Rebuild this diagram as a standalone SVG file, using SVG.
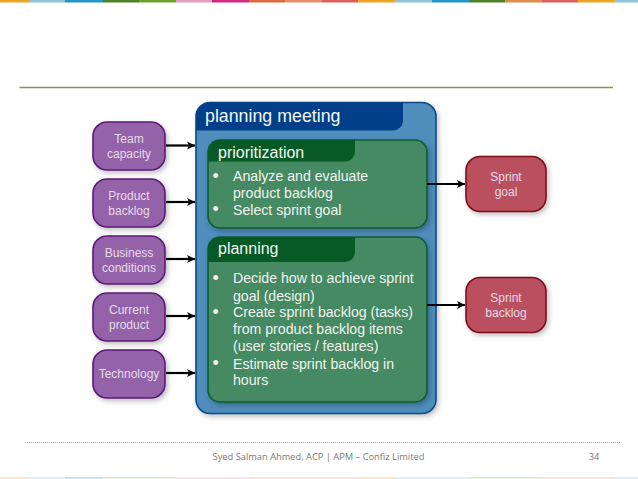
<svg xmlns="http://www.w3.org/2000/svg" width="638" height="479" viewBox="0 0 638 479">
<defs>
<filter id="sh" x="-20%" y="-20%" width="140%" height="140%"><feDropShadow dx="2" dy="2.5" stdDeviation="2.5" flood-color="#000" flood-opacity="0.25"/></filter>
<marker id="ah" markerUnits="userSpaceOnUse" markerWidth="9" markerHeight="10" refX="8" refY="5" orient="auto"><path d="M0 1L8 5L0 9L2 5Z" fill="#000"/></marker>
</defs>
<style>
text{font-family:"Liberation Sans",Arial,sans-serif;fill:#f2f2f2}
.in{fill:#9462a8;stroke:#5d1a78;stroke-width:1.6;filter:url(#sh)}
.out{fill:#b9505f;stroke:#7f1019;stroke-width:1.6;filter:url(#sh)}
.n{font-size:12px;text-anchor:middle;fill:#e6dcea}
.h{font-size:16px;fill:#f4f8f4}
.b{font-size:14.150px;fill:#f0f3f0}
.d{font-size:18px;fill:#f4f4f4}
.c{fill:none;stroke:#000;stroke-width:2.200;marker-end:url(#ah)}
.grn{fill:#458a62;stroke:#0b5c30;stroke-width:1.600}
.tab{fill:#075a25}
.f{font-size:9.300px;text-anchor:middle;fill:#7a7a7a;font-family:"Open Sans","Liberation Sans",sans-serif}
</style>
<rect width="638" height="479" fill="#fff"/>
<g id="top-stripe">
<rect x="0" width="29" height="2.500" fill="#eca424"/><rect x="29" width="36" height="2.500" fill="#8fc5dc"/><rect x="65" width="38" height="2.500" fill="#2295cb"/><rect x="103" width="36" height="2.500" fill="#4f8128"/><rect x="139" width="37" height="2.500" fill="#6ea22d"/><rect x="176" width="36" height="2.500" fill="#e59fc0"/><rect x="212" width="37" height="2.500" fill="#d02a80"/><rect x="249" width="36" height="2.500" fill="#dc6a3c"/><rect x="285" width="36.500" height="2.500" fill="#e5906a"/><rect x="321.500" width="37" height="2.500" fill="#d9605c"/><rect x="358.500" width="36.500" height="2.500" fill="#eca424"/><rect x="395" width="37" height="2.500" fill="#8fc5dc"/><rect x="432" width="37" height="2.500" fill="#2295cb"/><rect x="469" width="36.500" height="2.500" fill="#4f8128"/><rect x="505.500" width="36.500" height="2.500" fill="#e08a4c"/><rect x="542" width="36" height="2.500" fill="#d9605c"/><rect x="578" width="37" height="2.500" fill="#eca424"/><rect x="615" width="23" height="2.500" fill="#8fc5dc"/>
</g>
<g id="bottom-stripe" opacity="0.25">
<rect x="0" y="477" width="29" height="2" fill="#eca424"/><rect x="29" y="477" width="36" height="2" fill="#8fc5dc"/><rect x="65" y="477" width="38" height="2" fill="#2295cb"/><rect x="103" y="477" width="73" height="2" fill="#8dbb55"/><rect x="176" y="477" width="73" height="2" fill="#e59fc0"/><rect x="249" y="477" width="110" height="2" fill="#e5906a"/><rect x="359" y="477" width="36" height="2" fill="#eca424"/><rect x="395" y="477" width="74" height="2" fill="#8fc5dc"/><rect x="469" y="477" width="73" height="2" fill="#8dbb55"/><rect x="542" y="477" width="73" height="2" fill="#e5906a"/><rect x="615" y="477" width="23" height="2" fill="#8fc5dc"/>
</g>
<line x1="19.500" y1="87.500" x2="613" y2="87.500" stroke="#8a8c62" stroke-width="1.300"/>
<line x1="25" y1="442.500" x2="620" y2="442.500" stroke="#a8a8a8" stroke-width="1" stroke-dasharray="1 1"/>
<g id="planning-meeting">
<rect x="196" y="102.500" width="240" height="311" rx="14" fill="#4f8dbd" stroke="#0a4a85" stroke-width="1.600" filter="url(#sh)"/>
<path d="M196 130.500V116.500a14 14 0 0 1 14-14H403V120a10.500 10.500 0 0 1-12 10.500H196Z" fill="#023e8a"/>
<text class="h" style="font-size:17.800px" x="205" y="122">planning meeting</text>
</g>
<g id="prioritization">
<rect x="208" y="140" width="219" height="88" rx="12" class="grn" filter="url(#sh)"/>
<path d="M208 161.500V152a12 12 0 0 1 12-12H355V151a10 10 0 0 1-10 10.500H208Z" class="tab"/>
<text class="h" x="218" y="158">prioritization</text>
<text class="d" x="212.500" y="182">•</text><text class="b" x="233" y="181">Analyze and evaluate</text>
<text class="b" x="233" y="198">product backlog</text>
<text class="d" x="212.500" y="215">•</text><text class="b" x="233" y="215">Select sprint goal</text>
</g>
<g id="planning">
<rect x="208" y="237" width="219" height="165" rx="12" class="grn" filter="url(#sh)"/>
<path d="M208 262V249a12 12 0 0 1 12-12H355V252a10 10 0 0 1-10 10H208Z" class="tab"/>
<text class="h" x="218" y="254">planning</text>
<text class="d" x="212.500" y="284">•</text><text class="b" x="233" y="283">Decide how to achieve sprint</text>
<text class="b" x="233" y="301">goal (design)</text>
<text class="d" x="212.500" y="318">•</text><text class="b" x="233" y="317">Create sprint backlog (tasks)</text>
<text class="b" x="233" y="334">from product backlog items</text>
<text class="b" x="233" y="351">(user stories / features)</text>
<text class="d" x="212.500" y="369">•</text><text class="b" x="233" y="369">Estimate sprint backlog in</text>
<text class="b" x="233" y="385">hours</text>
</g>
<g id="connectors">
<path class="c" d="M166 145.500H195"/><path class="c" d="M166 202H195"/><path class="c" d="M166 259H195"/><path class="c" d="M166 316H195"/><path class="c" d="M166 373H195"/>
<path class="c" d="M427 184H465"/><path class="c" d="M427 305H465"/>
</g>
<g id="team-capacity"><rect class="in" x="93" y="122" width="72" height="48" rx="14"/><text class="n" x="129" y="143">Team</text><text class="n" x="129" y="158">capacity</text></g>
<g id="product-backlog"><rect class="in" x="93" y="179" width="72" height="48" rx="14"/><text class="n" x="129" y="200">Product</text><text class="n" x="129" y="215">backlog</text></g>
<g id="business-conditions"><rect class="in" x="93" y="236" width="72" height="48" rx="14"/><text class="n" x="129" y="257">Business</text><text class="n" x="129" y="272">conditions</text></g>
<g id="current-product"><rect class="in" x="93" y="293" width="72" height="48" rx="14"/><text class="n" x="129" y="314">Current</text><text class="n" x="129" y="329">product</text></g>
<g id="technology"><rect class="in" x="93" y="350" width="72" height="48" rx="14"/><text class="n" x="129" y="378">Technology</text></g>
<g id="sprint-goal"><rect class="out" x="466" y="156.500" width="80" height="55" rx="14"/><text class="n" x="506" y="181">Sprint</text><text class="n" x="506" y="196">goal</text></g>
<g id="sprint-backlog"><rect class="out" x="466" y="277.500" width="80" height="55" rx="14"/><text class="n" x="506" y="302">Sprint</text><text class="n" x="506" y="317">backlog</text></g>
<text class="f" x="318.500" y="460">Syed Salman Ahmed, ACP | APM – Confiz Limited</text>
<text class="f" x="594" y="460">34</text>
</svg>
